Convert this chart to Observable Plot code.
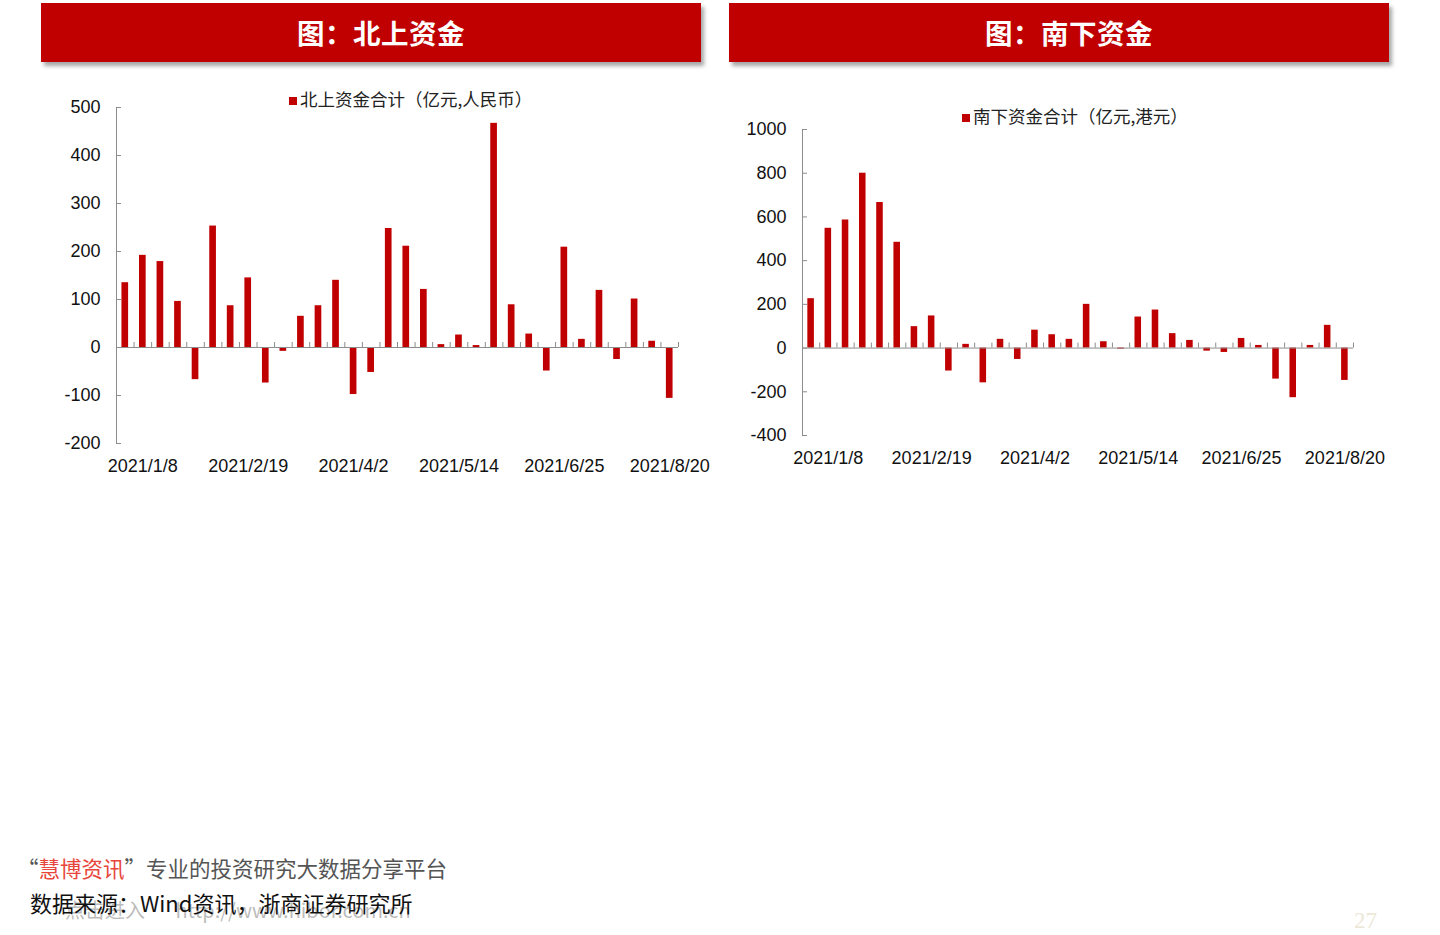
<!DOCTYPE html>
<html>
<head>
<meta charset="utf-8">
<script src="https://cdn.jsdelivr.net/npm/d3@7"></script>
<script src="https://cdn.jsdelivr.net/npm/@observablehq/plot@0.6"></script>
<style>
  html,body{margin:0;padding:0;background:#fff;}
  body{width:1440px;height:935px;position:relative;overflow:hidden;font-family:"Liberation Sans",Arial,sans-serif;}
  .banner{position:absolute;top:3px;height:59px;width:660px;box-sizing:border-box;padding-left:20px;padding-bottom:2px;background:#C00000;box-shadow:3px 4px 4px rgba(0,0,0,0.35);color:#fff;font-family:"Noto Sans CJK SC",sans-serif;font-weight:bold;font-size:27.5px;display:flex;align-items:center;justify-content:center;letter-spacing:0.5px;}
  .legend{position:absolute;font-family:"Noto Sans CJK SC",sans-serif;font-size:17.5px;color:#222;white-space:nowrap;line-height:20px;}
  .legend .sw{display:inline-block;width:8px;height:8px;background:#C00000;margin-right:3px;vertical-align:1px;}
  .chart{position:absolute;}
  .foot{position:absolute;font-family:"Noto Sans CJK SC",sans-serif;white-space:nowrap;}
</style>
</head>
<body>
<div class="banner" style="left:41px;">图：北上资金</div>
<div class="banner" style="left:729px;">图：南下资金</div>
<div class="legend" style="left:289px;top:89px;"><span class="sw"></span>北上资金合计（亿元,人民币）</div>
<div class="legend" style="left:962px;top:106px;"><span class="sw"></span>南下资金合计（亿元,港元）</div>
<div id="left" class="chart" style="left:40px;top:80px;"></div>
<div id="right" class="chart" style="left:725px;top:100px;"></div>

<div class="foot" style="left:17px;top:852px;font-size:21.5px;color:#555;">“<span style="color:#E8463C;">慧博资讯</span>”专业的投资研究大数据分享平台</div>
<div class="foot" style="left:65px;top:895px;font-size:20px;color:rgba(120,120,120,0.5);">点击进入 <span style="display:inline-block;width:26px;"></span>http://www.hibor.com.cn</div>
<div class="foot" style="left:30px;top:886px;font-size:22px;color:#111;">数据来源：Wind资讯，浙商证券研究所</div>
<div class="foot" style="left:1354px;top:908px;font-size:23px;color:#ECE8D8;font-family:'Liberation Serif',serif;">27</div>

<script>
const dates = ["2020/12/31","2021/1/8","2021/1/15","2021/1/22","2021/1/29","2021/2/5","2021/2/10","2021/2/19",
  "2021/2/26","2021/3/5","2021/3/12","2021/3/19","2021/3/26","2021/4/2","2021/4/9","2021/4/16",
  "2021/4/23","2021/4/30","2021/5/7","2021/5/14","2021/5/21","2021/5/28","2021/6/4","2021/6/11",
  "2021/6/18","2021/6/25","2021/7/2","2021/7/9","2021/7/16","2021/7/23","2021/8/6","2021/8/20"];
const tickLabels = ["2021/1/8","2021/2/19","2021/4/2","2021/5/14","2021/6/25","2021/8/20"];
const northValues = [135,192,179,96,-67,253,87,145,-74,-8,65,87,140,-98,-52,248,
  211,121,6,26,4,467,89,28,-49,209,17,119,-25,101,13,-106];
const southValues = [226,548,586,800,666,484,98,147,-105,17,-159,40,-52,82,61,40,
  200,29,-5,142,174,66,35,-14,-20,44,12,-142,-227,12,104,-148];
const northTicks = [-200,-100,0,100,200,300,400,500];
const southTicks = [-400,-200,0,200,400,600,800,1000];

const axisColor = "#8c8c8c";
const barColor = "#C00000";

function makeChart({values, yDomain, yTicks, width, height, ml, mr, mt, mb, xPad}) {
  const data = dates.map((d, i) => ({date: d, value: values[i]}));
  const step = (width - ml - mr) / dates.length;
  const pin = 0.62, pout = 0.31;
  const bw = step * (1 - pin);
  return Plot.plot({
    width, height,
    marginLeft: ml, marginRight: mr, marginTop: mt, marginBottom: mb,
    style: {fontFamily: "'Liberation Sans', Arial, sans-serif", fontSize: "18px", color: "#111", background: "transparent", overflow: "visible"},
    x: {domain: dates, paddingInner: pin, paddingOuter: pout, round: false, label: null},
    y: {domain: yDomain, label: null},
    marks: [
      Plot.barY(data, {x: "date", y: "value", fill: barColor}),
      Plot.ruleY([0], {stroke: axisColor, strokeWidth: 1}),
      Plot.ruleX([dates[0]], {dx: -step / 2, y1: yDomain[0], y2: yDomain[1], stroke: axisColor}),
      Plot.ruleX(dates, {dx: -step / 2, y1: 0, y2: 0, insetTop: -5, stroke: axisColor}),
      Plot.ruleX([dates[dates.length - 1]], {dx: step / 2, y1: 0, y2: 0, insetTop: -5, stroke: axisColor}),
      Plot.tickY(yTicks, {y: d => d, x: () => dates[0], dx: -step * pout, insetRight: bw - 5, stroke: axisColor}),
      Plot.axisY({ticks: yTicks, tickSize: 0, tickPadding: 16, tickFormat: d => String(d), fill: "#111"}),
      Plot.axisX({ticks: tickLabels, tickSize: 0, tickPadding: xPad, fill: "#111"})
    ]
  });
}

document.getElementById("left").append(makeChart({
  values: northValues, yDomain: [-200, 500], yTicks: northTicks,
  width: 680, height: 410, ml: 76, mr: 42, mt: 27, mb: 47, xPad: 16
}));
document.getElementById("right").append(makeChart({
  values: southValues, yDomain: [-400, 1000], yTicks: southTicks,
  width: 680, height: 380, ml: 77, mr: 52, mt: 29, mb: 45, xPad: 16
}));
</script>
</body>
</html>
